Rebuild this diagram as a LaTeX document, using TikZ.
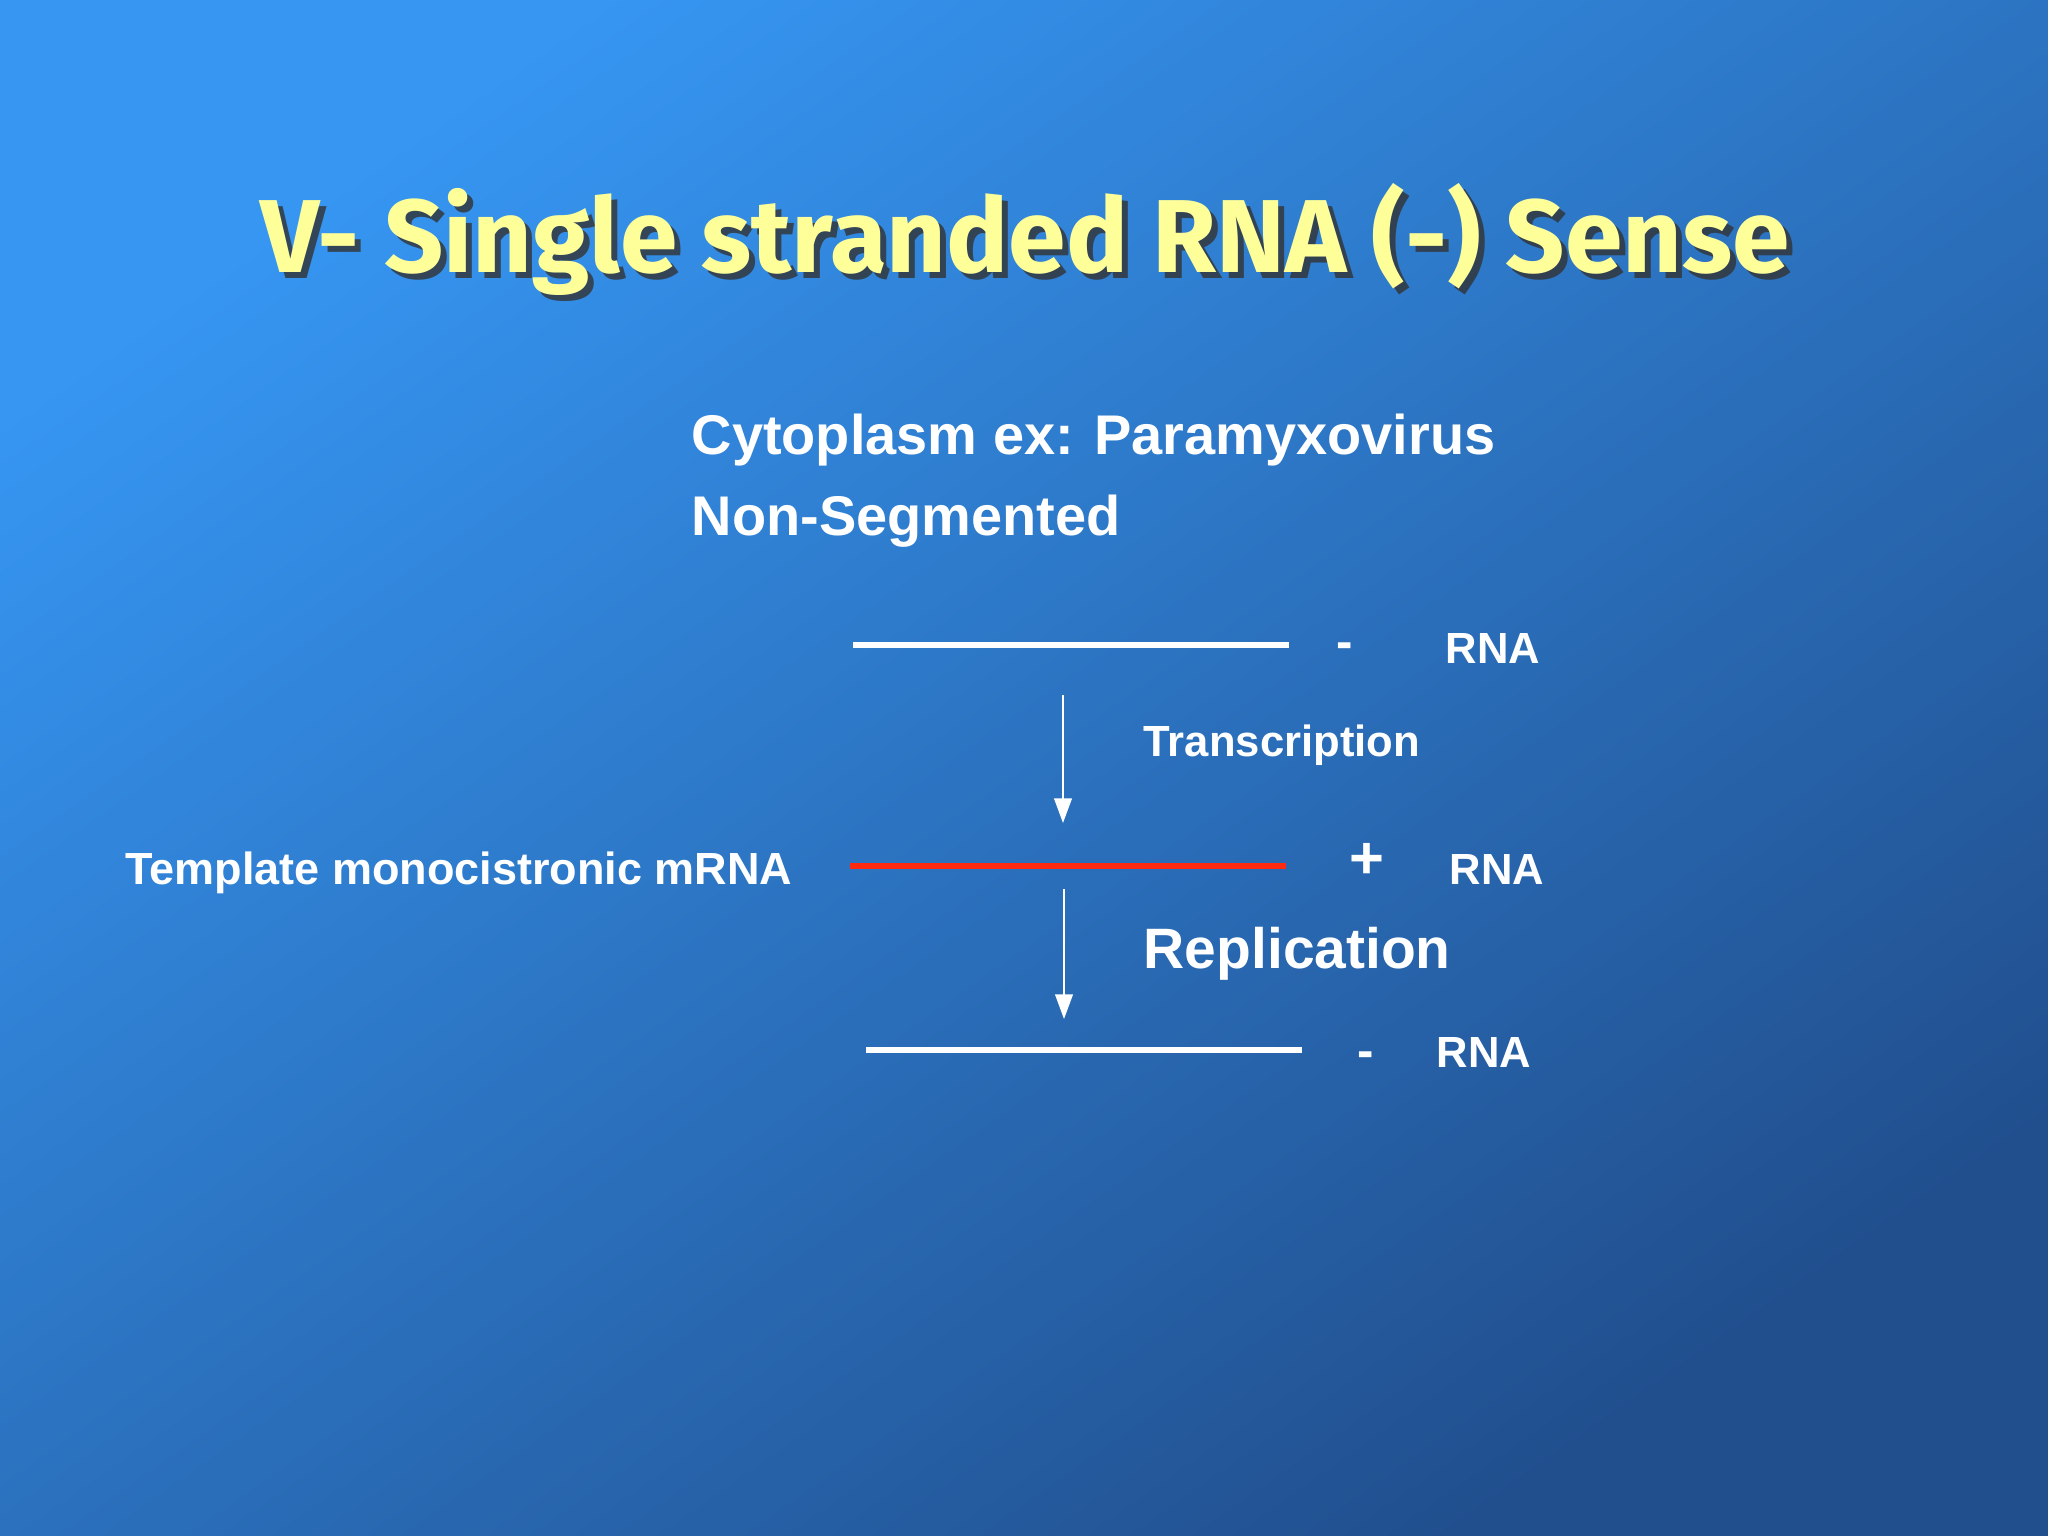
\documentclass[tikz,border=0pt]{standalone}
\usepackage{fontspec}
\setmainfont{Liberation Sans}
\newfontfamily\titlefont{Fira Sans}
\usetikzlibrary{arrows.meta,shadings}
\definecolor{bgA}{HTML}{3696F2}
\definecolor{bgB}{HTML}{214F8E}
\definecolor{ttl}{HTML}{FFFF99}
\definecolor{redline}{HTML}{FF2A10}
\tikzset{
  lbl/.style={text=white,font=\bfseries\fontsize{12.4}{14}\selectfont,inner sep=0pt},
  big/.style={text=white,font=\bfseries\fontsize{15.9}{18}\selectfont,inner sep=0pt,anchor=base west},
  strand/.style={line width=1.9pt,white},
  arr/.style={white,line width=0.6pt,-{Triangle[length=7pt,width=5pt]}}
}
\begin{document}
\begin{tikzpicture}[x=0.01cm,y=-0.01cm]
\shade[top color=bgA,bottom color=bgB,shading angle=35] (0,0) rectangle (2048,1536);
\useasboundingbox (0,0) rectangle (2048,1536);
\node[font=\titlefont\bfseries\fontsize{29.5}{36}\selectfont,text=black!80,opacity=0.8] at (1031,245) {V- Single stranded RNA (-) Sense};
\node (title) [font=\titlefont\bfseries\fontsize{29.5}{36}\selectfont,text=ttl] at (1025,239) {V- Single stranded RNA (-) Sense};
\node (cyto) [big] at (691,454) {Cytoplasm ex: Paramyxovirus};
\node (nonseg) [big] at (691,535) {Non-Segmented};
\coordinate (l1a) at (853,645); \coordinate (l1b) at (1289,645);
\draw[strand] (l1a) -- (l1b);
\node (m1) [lbl,font=\bfseries\fontsize{14}{14}\selectfont] at (1345,651) {-};
\node (r1) [lbl] at (1493,648) {RNA};
\coordinate (a1s) at (1063,695); \coordinate (a1e) at (1063,823);
\draw[arr] (a1s) -- (a1e);
\node (tr) [lbl,anchor=west] at (1143,745) {Transcription};
\coordinate (l2a) at (850,866); \coordinate (l2b) at (1286,866);
\draw[strand,redline] (l2a) -- (l2b);
\node (p2) [lbl,font=\bfseries\fontsize{17}{18}\selectfont] at (1367,861) {+};
\node (r2) [lbl] at (1497,869) {RNA};
\node (tmpl) [lbl,anchor=east,font=\bfseries\fontsize{12.8}{14}\selectfont] at (793,873) {Template monocistronic mRNA};
\coordinate (a2s) at (1064,889); \coordinate (a2e) at (1064,1019);
\draw[arr] (a2s) -- (a2e);
\node (rep) [lbl,anchor=west,font=\bfseries\fontsize{16.2}{19}\selectfont] at (1143,954) {Replication};
\coordinate (l3a) at (866,1050); \coordinate (l3b) at (1302,1050);
\draw[strand] (l3a) -- (l3b);
\node (m3) [lbl,font=\bfseries\fontsize{14}{14}\selectfont] at (1366,1060) {-};
\node (r3) [lbl] at (1484,1052) {RNA};
\end{tikzpicture}
\end{document}
